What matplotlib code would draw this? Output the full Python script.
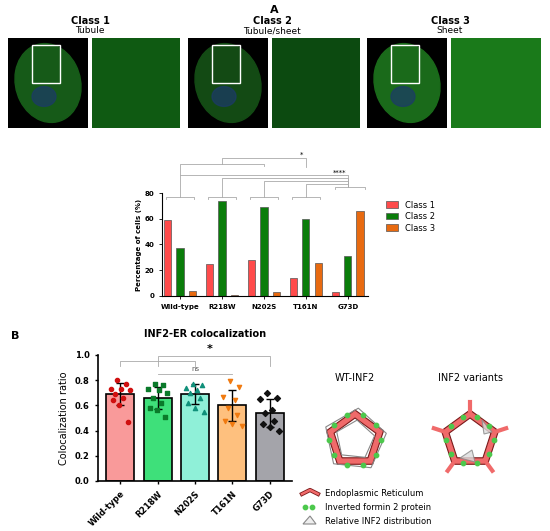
import numpy as np
import matplotlib.pyplot as plt
from matplotlib.patches import Polygon, Rectangle, Ellipse

W, H = 550, 531

# ---- data ----
variants = ['Wild-type', 'R218W', 'N202S', 'T161N', 'G73D']
class1 = [59, 25, 28, 14, 3]
class2 = [37, 74, 69, 60, 31]
class3 = [4, 1, 3, 26, 66]
class_colors = ['#ff4b4b', '#0a7d0a', '#e86a10']

coloc_mean = [0.69, 0.66, 0.69, 0.60, 0.54]
coloc_sd = [0.09, 0.09, 0.08, 0.12, 0.11]
coloc_pts = [
    [0.80, 0.77, 0.73, 0.73, 0.72, 0.69, 0.66, 0.64, 0.60, 0.47],
    [0.77, 0.76, 0.73, 0.72, 0.70, 0.66, 0.62, 0.58, 0.56, 0.51],
    [0.77, 0.76, 0.74, 0.72, 0.70, 0.66, 0.62, 0.58, 0.55],
    [0.79, 0.75, 0.67, 0.64, 0.58, 0.52, 0.48, 0.45, 0.44],
    [0.70, 0.66, 0.65, 0.56, 0.54, 0.48, 0.45, 0.43, 0.40],
]
bar_colors = ['#f99a9a', '#3ee07a', '#8ff0d8', '#fec07e', '#a4a4aa']
pt_colors = ['#d01010', '#0a7a2a', '#10907a', '#f07a10', '#111111']
pt_markers = ['o', 's', '^', 'v', 'D']

fig = plt.figure(figsize=(W / 100, H / 100), dpi=100)
plt.rcParams['font.family'] = ['DejaVu Sans']


def ax_px(x0, y0, x1, y1):
    return fig.add_axes([x0 / W, 1 - y1 / H, (x1 - x0) / W, (y1 - y0) / H])


def ftext(x, y, s, **kw):
    fig.text(x / W, 1 - y / H, s, **kw)


# ---- panel A: microscopy placeholders ----
ftext(274, 10, 'A', fontsize=8, weight='bold', ha='center', va='center')
heads = [('Class 1', 'Tubule', 90), ('Class 2', 'Tubule/sheet', 272), ('Class 3', 'Sheet', 450)]
for t, s, cx in heads:
    ftext(cx, 21, t, fontsize=7, weight='bold', ha='center', va='center')
    ftext(cx, 31, s, fontsize=6.5, ha='center', va='center')

panels = [(8, 88), (92, 180), (188, 268), (272, 360), (367, 447), (451, 541)]
for k, (x0, x1) in enumerate(panels):
    a = ax_px(x0, 38, x1, 128)
    a.set_facecolor('black')
    a.set_xticks([]); a.set_yticks([])
    a.set_xlim(0, 1); a.set_ylim(0, 1)
    zoomed = k % 2 == 1
    cls = k // 2
    if zoomed:
        a.add_patch(Rectangle((0, 0), 1, 1, color=['#0f5a12', '#0c4a10', '#1a7a1a'][cls]))
    else:
        a.add_patch(Ellipse((0.5, 0.5), 0.8, 0.9, angle=30, color=['#165a18', '#134a14', '#1a6a1a'][cls]))
        a.add_patch(Ellipse((0.45, 0.35), 0.3, 0.22, color='#1c3a6a', alpha=0.7))
        a.add_patch(Rectangle((0.3, 0.5), 0.35, 0.42, fill=False, ec='white', lw=1))
    for sp in a.spines.values():
        sp.set_visible(False)

# ---- class bar chart ----
ax = ax_px(162, 193, 368, 296)
x = np.arange(len(variants))
XL = (-0.43, 4.48)
for j, vals in enumerate([class1, class2, class3]):
    ax.bar(x + (j - 1) * 0.29, vals, 0.17, color=class_colors[j], edgecolor='#555555', lw=0.5,
           label='Class %d' % (j + 1))
ax.set_xlim(*XL)
ax.set_ylim(0, 80)
ax.set_yticks([0, 20, 40, 60, 80])
ax.set_xticks(x)
ax.set_xticklabels(variants, fontsize=5, weight='bold')
ax.tick_params(labelsize=5, length=2, width=0.6)
for lab in ax.get_yticklabels():
    lab.set_weight('bold')
ax.set_ylabel('Percentage of cells (%)', fontsize=5, weight='bold', labelpad=2)
ax.spines[['top', 'right']].set_visible(False)
ax.legend(loc='upper left', bbox_to_anchor=(1.05, 1.0), fontsize=6, frameon=False,
          handlelength=1.5, handleheight=0.8, labelspacing=0.3)

# brackets above (y in pixels)
bax = ax_px(162, 145, 368, 205)
bax.set_xlim(*XL); bax.set_ylim(205, 145)
bax.axis('off')
col = '#aaaaaa'
for i in range(4):
    bax.plot([i - 0.33, i - 0.33, i + 0.33, i + 0.33], [199, 197, 197, 199], color=col, lw=0.6)
bax.plot([3.7, 3.7, 4.4, 4.4], [189, 187, 187, 189], color=col, lw=0.6)
for i, y in enumerate([175, 178, 181, 183.5]):
    bax.plot([i, i, 4.0, 4.0], [197, y, y, 187], color=col, lw=0.6)
bax.plot([0, 0, 2, 2], [175, 164, 164, 166], color=col, lw=0.6)
bax.plot([1, 1, 3, 3], [164, 158, 158, 167], color=col, lw=0.6)
bax.text(2.9, 155, '*', fontsize=5, ha='center', va='center')
bax.text(3.8, 173, '****', fontsize=5, ha='center', va='center')

# ---- panel B ----
ftext(15, 336, 'B', fontsize=8, weight='bold', ha='center', va='center')
ftext(205, 334, 'INF2-ER colocalization', fontsize=7, weight='bold', ha='center', va='center')
bx = ax_px(98, 355, 292, 481)
bx.bar(x, coloc_mean, 0.75, color=bar_colors, edgecolor='black', lw=1.2)
bx.errorbar(x, coloc_mean, yerr=coloc_sd, fmt='none', ecolor='black', capsize=3, lw=1)
orders = {10: [3, 7, 0, 5, 9, 2, 6, 1, 4, 8], 9: [3, 7, 0, 5, 2, 6, 1, 4, 8]}
for i, pts in enumerate(coloc_pts):
    offs = np.linspace(-0.25, 0.25, len(pts))[orders[len(pts)]]
    bx.scatter(i + offs, pts, s=9, color=pt_colors[i], marker=pt_markers[i], zorder=3)
bx.set_xlim(-0.6, 4.6)
bx.set_ylim(0, 1.0)
bx.set_yticks([0, 0.2, 0.4, 0.6, 0.8, 1.0])
bx.set_yticklabels(['0.0', '0.2', '0.4', '0.6', '0.8', '1.0'], fontsize=6, weight='bold')
bx.set_xticks(x)
bx.set_xticklabels(variants, rotation=45, ha='right', rotation_mode='anchor', fontsize=6, weight='bold')
bx.set_ylabel('Colocalization ratio', fontsize=7)
bx.tick_params(length=2.5, width=1)
for s in ['left', 'bottom']:
    bx.spines[s].set_linewidth(1.2)
bx.spines[['top', 'right']].set_visible(False)
c2 = '#aaaaaa'
bx.plot([0, 0, 2, 2], [0.91, 0.95, 0.95, 0.91], color=c2, lw=0.6)
bx.plot([1, 1, 4, 4], [0.91, 0.99, 0.99, 0.91], color=c2, lw=0.6, clip_on=False)
bx.plot([1, 3], [0.85, 0.85], color=c2, lw=0.6)
bx.text(2.0, 0.87, 'ns', fontsize=5, ha='center', color='#555555')
bx.text(2.4, 1.02, '*', fontsize=8, ha='center', weight='bold', clip_on=False)

# ---- schematic ----
ftext(355, 378, 'WT-INF2', fontsize=7, ha='center', va='center')
ftext(470, 378, 'INF2 variants', fontsize=7, ha='center', va='center')
sx = ax_px(290, 385, 550, 531)
sx.set_xlim(290, 550); sx.set_ylim(531, 385)
sx.axis('off')


def ring(cx, cy, r, w, n=5, rot=-90):
    ang = np.radians(np.arange(n) * 360 / n + rot)
    outer = [(cx + (r + w) * np.cos(a), cy + (r + w) * np.sin(a)) for a in ang]
    inner = [(cx + r * np.cos(a), cy + r * np.sin(a)) for a in ang]
    return outer, inner


for cx, variant in [(355, False), (470, True)]:
    cy = 440
    outer, inner = ring(cx, cy, 22, 8)
    sx.add_patch(Polygon(outer, closed=True, fc='#f06a6a', ec='#7a1a1a', lw=0.8))
    sx.add_patch(Polygon(inner, closed=True, fc='white', ec='#7a1a1a', lw=0.8))
    o2, i2 = ring(cx, cy, 20, 12, rot=-84)
    if not variant:
        sx.add_patch(Polygon(o2, closed=True, fc='none', ec='#888888', lw=0.8))
        sx.add_patch(Polygon(i2, closed=True, fc='none', ec='#888888', lw=0.8))
    else:
        sx.add_patch(Polygon([(cx - 10, cy + 18), (cx + 5, cy + 22), (cx + 2, cy + 10)],
                             fc='#dddddd', ec='#888888', lw=0.8, alpha=0.8))
        sx.add_patch(Polygon([(cx + 12, cy - 20), (cx + 22, cy - 8), (cx + 14, cy - 6)],
                             fc='#dddddd', ec='#888888', lw=0.8, alpha=0.8))
        for a in np.radians([-90, -18, 54, 126, 198]):
            x0, y0 = cx + 30 * np.cos(a), cy + 30 * np.sin(a)
            x1, y1 = cx + 38 * np.cos(a), cy + 38 * np.sin(a)
            sx.plot([x0, x1], [y0, y1], color='#f06a6a', lw=3)
    ang = np.radians(np.arange(10) * 36 - 72)
    rr = 26 if not variant else 24
    sx.scatter(cx + rr * np.cos(ang), cy + rr * np.sin(ang), s=10, color='#4cc84c', zorder=3)

sx.plot([302, 310, 318], [494, 490, 494], color='#7a1a1a', lw=3)
sx.plot([302, 310, 318], [494, 490, 494], color='#f06a6a', lw=1.8)
sx.scatter([305, 312], [507, 507], s=10, color='#4cc84c')
sx.add_patch(Polygon([(303, 524), (310, 516), (316, 524)], fc='#eeeeee', ec='#888888', lw=0.8))
sx.text(325, 493, 'Endoplasmic Reticulum', fontsize=6, va='center')
sx.text(325, 507, 'Inverted formin 2 protein', fontsize=6, va='center')
sx.text(325, 521, 'Relative INF2 distribution', fontsize=6, va='center')

fig.savefig('out.png', dpi=100)
